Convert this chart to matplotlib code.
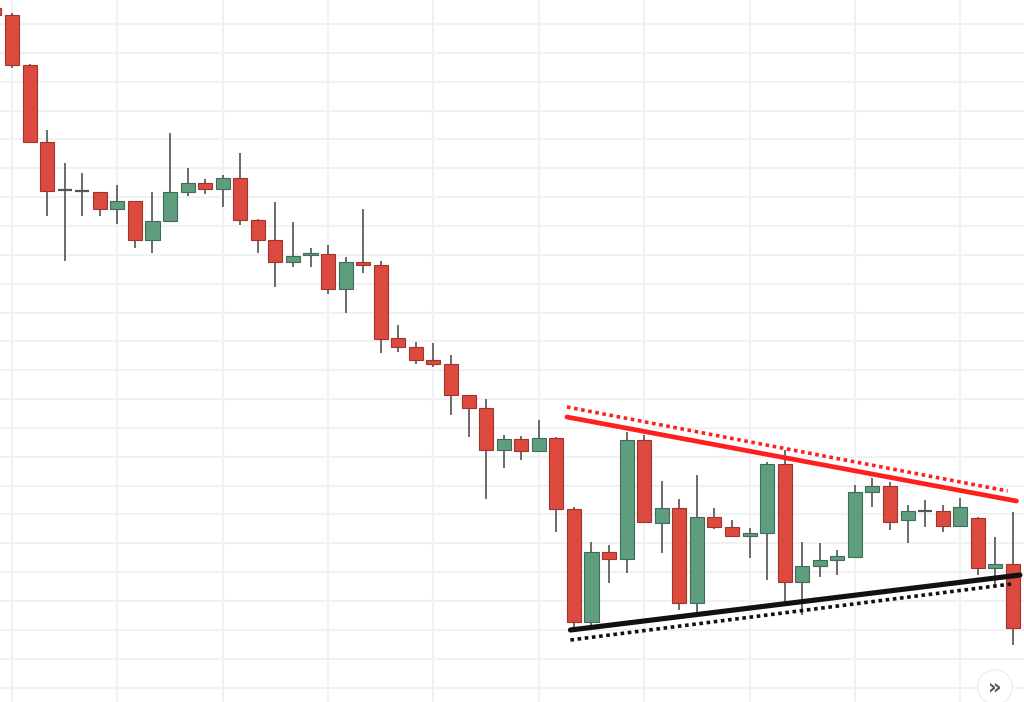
import numpy as np
import matplotlib
matplotlib.use('Agg')
import matplotlib.pyplot as plt

# candle OHLC values (price units), one entry per bar
opens = [69.4, 68.7, 63.7, 56.0, 51.2, 51.1, 51.0, 49.3, 50.1, 46.2,
         48.1, 51.0, 51.9, 51.3, 52.4, 48.2, 46.2, 44.0, 44.7, 44.8,
         41.3, 44.0, 43.7, 36.4, 35.5, 34.2, 33.8, 30.7, 29.4, 25.2,
         26.3, 25.1, 26.4, 19.3, 8.0, 15.0, 14.3, 26.2, 17.9, 19.4,
         9.9, 18.5, 17.5, 16.6, 16.9, 23.8, 12.0, 13.6, 14.2, 14.5,
         21.0, 21.6, 18.2, 19.1, 19.1, 17.6, 18.4, 13.4, 13.8]
highs = [69.7, 68.9, 63.8, 57.2, 53.9, 52.9, 51.0, 51.7, 50.1, 51.0,
         56.9, 53.4, 52.3, 52.7, 54.9, 48.3, 50.0, 48.0, 45.4, 45.7,
         44.5, 49.3, 44.1, 37.7, 36.0, 35.9, 34.7, 30.7, 30.3, 26.7,
         26.6, 28.2, 26.5, 19.5, 16.0, 15.7, 27.0, 26.7, 22.1, 20.3,
         22.7, 19.4, 18.2, 17.4, 24.0, 25.2, 16.0, 15.9, 15.2, 21.7,
         22.4, 22.0, 19.7, 20.2, 19.7, 20.4, 18.5, 16.5, 19.0]
lows = [68.5, 63.4, 55.9, 48.6, 44.1, 48.6, 48.6, 47.8, 45.4, 44.9,
        48.0, 50.6, 50.8, 49.5, 47.7, 44.9, 41.5, 43.5, 43.5, 40.8,
        38.9, 42.9, 34.9, 35.0, 33.8, 33.5, 28.7, 26.5, 20.3, 23.4,
        24.2, 25.1, 17.0, 7.4, 7.7, 11.9, 12.9, 18.0, 14.9, 9.2,
        9.0, 17.3, 16.5, 14.4, 12.2, 9.9, 8.7, 12.5, 12.7, 14.5,
        19.5, 17.2, 15.9, 17.5, 17.0, 17.6, 12.7, 11.5, 5.7]
closes = [68.7, 63.7, 56.0, 51.1, 51.2, 51.1, 49.3, 50.1, 46.2, 48.1,
          51.0, 51.9, 51.3, 52.4, 48.2, 46.2, 44.0, 44.6, 44.9, 41.3,
          44.0, 43.7, 36.3, 35.5, 34.2, 33.8, 30.7, 29.4, 25.2, 26.3,
          25.1, 26.4, 19.3, 8.0, 15.0, 14.3, 26.2, 18.0, 19.4, 9.9,
          18.5, 17.5, 16.6, 16.9, 23.8, 12.0, 13.6, 14.2, 14.6, 21.0,
          21.6, 18.0, 19.1, 19.1, 17.6, 19.5, 13.4, 13.8, 7.4]

# trendlines: (start bar, start price, end bar, end price)
red_solid = [32.6, 28.5, 58.2, 20.1]
red_dotted = [32.6, 29.5, 57.7, 21.1]
black_solid = [32.8, 7.2, 58.4, 12.7]
black_dotted = [32.8, 6.2, 57.9, 11.8]

RED = '#dc4a3f'
RED_EDGE = '#a3322a'
GREEN = '#5f9d7f'
GREEN_EDGE = '#3e6c56'

fig = plt.figure(figsize=(10.24, 7.02), dpi=100)
ax = fig.add_axes([0, 0, 1, 1])
ax.set_facecolor('white')

o = np.array(opens)
h = np.array(highs)
l = np.array(lows)
c = np.array(closes)
x = np.arange(len(o))

up = c > o
down = c < o
flat = c == o
body_bottom = np.minimum(o, c)
body_height = np.maximum(np.abs(c - o), 0.25)

# wicks
ax.vlines(x, l, h, color='#6a6a6a', linewidth=1.4, zorder=2)
# bodies
ax.bar(x[up], body_height[up], bottom=body_bottom[up], width=0.8,
       color=GREEN, edgecolor=GREEN_EDGE, linewidth=0.8, zorder=3)
ax.bar(x[down], body_height[down], bottom=body_bottom[down], width=0.8,
       color=RED, edgecolor=RED_EDGE, linewidth=0.8, zorder=3)
# dojis
ax.hlines(o[flat], x[flat] - 0.4, x[flat] + 0.4, color='#555555',
          linewidth=1.6, zorder=3)

# trendlines
ax.plot(red_solid[0::2], red_solid[1::2], color='#ff1f1f', linewidth=3.4,
        solid_capstyle='round', zorder=5)
ax.plot(red_dotted[0::2], red_dotted[1::2], color='#ff1f1f', linewidth=2.6,
        linestyle=(0, (1, 1)), dash_capstyle='butt', zorder=5)
ax.plot(black_solid[0::2], black_solid[1::2], color='#111111', linewidth=3.7,
        solid_capstyle='round', zorder=5)
ax.plot(black_dotted[0::2], black_dotted[1::2], color='#111111', linewidth=2.6,
        linestyle=(0, (1, 1)), dash_capstyle='butt', zorder=5)

# grid
ax.set_xlim(0.317, 58.63)
ax.set_ylim(0, 70.2)
ax.set_xticks(np.arange(1, 60, 6))
ax.set_yticks(np.arange(67.8, 0, -2.885))
ax.grid(True, color='#f1f1f3', linewidth=1.5, zorder=0)
ax.set_axisbelow(True)
ax.tick_params(length=0, labelbottom=False, labelleft=False)
for s in ax.spines.values():
    s.set_visible(False)

# scroll button
fig.text(995 / 1024, 1 - 687 / 702, '»', ha='center', va='center',
         fontsize=15, color='#555555', fontweight='bold',
         bbox=dict(boxstyle='circle,pad=0.35', fc='white', ec='#eeeeee', lw=1))

fig.savefig('out.png', dpi=100)
